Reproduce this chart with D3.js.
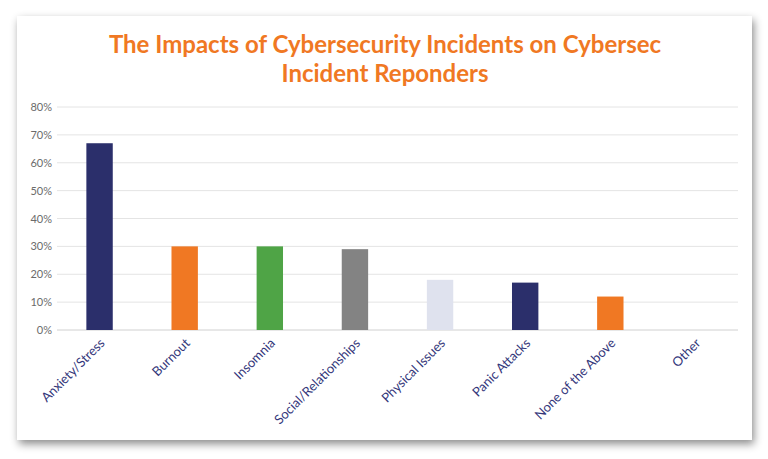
<!DOCTYPE html>
<html><head><meta charset="utf-8">
<script src="https://cdn.jsdelivr.net/npm/d3@7"></script>
<style>body{margin:0;background:#fff;}</style>
</head><body>
<svg id="c" width="768" height="459"></svg>
<script>
var categories = ['Anxiety/Stress', 'Burnout', 'Insomnia', 'Social/Relationships', 'Physical Issues', 'Panic Attacks', 'None of the Above', 'Other'];
var values = [0.67, 0.30, 0.30, 0.29, 0.18, 0.17, 0.12, 0];
var colors = ['#2b2f6b', '#f07823', '#4fa446', '#838383', '#dfe2ee', '#2b2f6b', '#f07823', '#2b2f6b'];
var yTicks = [0, 0.1, 0.2, 0.3, 0.4, 0.5, 0.6, 0.7, 0.8];

var svg = d3.select('#c');
var defs = svg.append('defs');
var f = defs.append('filter').attr('id', 'sh').attr('x', '-5%').attr('y', '-5%').attr('width', '110%').attr('height', '115%');
f.append('feDropShadow').attr('dx', 2).attr('dy', 4).attr('stdDeviation', 4).attr('flood-color', '#000').attr('flood-opacity', 0.45);

svg.append('rect').attr('x', 17).attr('y', 16).attr('width', 735).attr('height', 424)
  .attr('fill', '#fff').attr('filter', 'url(#sh)');

var title = svg.append('text').attr('text-anchor', 'middle').attr('fill', '#f07823')
  .style('font-family', 'Lato, sans-serif').style('font-weight', 'bold').style('font-size', '24px');
title.append('tspan').attr('x', 385).attr('y', 53).text('The Impacts of Cybersecurity Incidents on Cybersec');
title.append('tspan').attr('x', 385).attr('y', 82).text('Incident Reponders');

var x = d3.scaleBand().domain(categories).range([57, 738]).paddingInner(0.69).paddingOuter(0.345);
var y = d3.scaleLinear().domain([0, 0.8]).range([330, 107]);

svg.append('g').selectAll('line').data(yTicks).enter().append('line')
  .attr('x1', 57).attr('x2', 738).attr('y1', d => y(d)).attr('y2', d => y(d))
  .attr('stroke', d => d === 0 ? '#d0d0d0' : '#e4e4e4').attr('stroke-width', 1);

svg.append('g').selectAll('text').data(yTicks).enter().append('text')
  .attr('x', 52).attr('y', d => y(d) + 4).attr('text-anchor', 'end')
  .attr('fill', '#6b6b6b').style('font-family', 'Lato, sans-serif').style('font-size', '11px')
  .text(d3.format('.0%'));

svg.append('g').selectAll('rect').data(values).enter().append('rect')
  .attr('x', (d, i) => x(categories[i])).attr('width', x.bandwidth())
  .attr('y', d => y(d)).attr('height', d => y(0) - y(d))
  .attr('fill', (d, i) => colors[i]);

svg.append('g').selectAll('text').data(categories).enter().append('text')
  .attr('text-anchor', 'end').attr('fill', '#33367a')
  .style('font-family', 'Lato, sans-serif').style('font-size', '13px')
  .attr('transform', d => 'translate(' + (x(d) + x.bandwidth() / 2 + 6) + ',344) rotate(-45)')
  .text(d => d);
</script>
</body></html>
